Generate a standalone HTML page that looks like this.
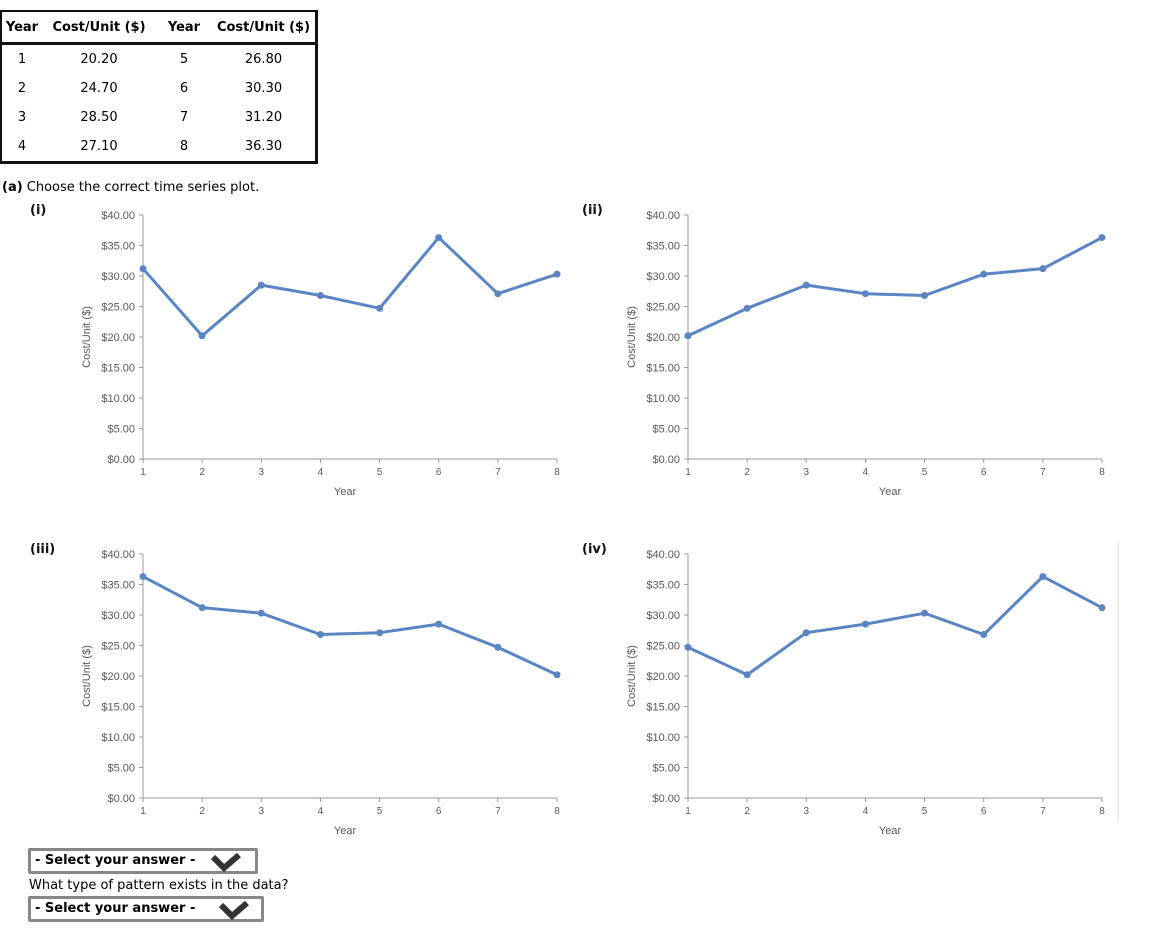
<!DOCTYPE html>
<html><head><meta charset="utf-8"><style>
body{margin:0;background:#fff;width:1172px;height:946px;overflow:hidden;font-family:Verdana,"DejaVu Sans",sans-serif;position:relative}
.tbl{position:absolute;left:0;top:10px;width:313px;height:149px;border:2px solid #111;border-right-width:3px;border-bottom-width:3px}
.tbl table{border-collapse:collapse;width:100%;font-size:13px;table-layout:fixed}
.tbl th{font-weight:bold;height:30px;border-bottom:3px solid #111;padding:0}
.tbl td{text-align:center;height:29px;padding:0}
.q{position:absolute;left:2px;top:180px;font-size:13px}
.sel{position:absolute;left:28px;width:220px;height:20px;border:3px solid #888;border-radius:2px;font-weight:bold;font-size:13px;line-height:20px;padding-left:4px;box-sizing:content-box}
.sel svg.v{position:absolute;left:178px;top:1px}
.txt{position:absolute;left:29px;top:878px;font-size:13px}
#s{position:absolute;left:0;top:0}
</style></head><body>
<div class="tbl"><table>
<colgroup><col style="width:40px"><col style="width:114px"><col style="width:56px"><col></colgroup>
<tr><th>Year</th><th>Cost/Unit ($)</th><th>Year</th><th>Cost/Unit ($)</th></tr>
<tr><td>1</td><td>20.20</td><td>5</td><td>26.80</td></tr>
<tr><td>2</td><td>24.70</td><td>6</td><td>30.30</td></tr>
<tr><td>3</td><td>28.50</td><td>7</td><td>31.20</td></tr>
<tr><td>4</td><td>27.10</td><td>8</td><td>36.30</td></tr>
</table></div>
<div class="q"><b>(a)</b> Choose the correct time series plot.</div>
<div class="sel" style="top:848px">- Select your answer -<svg class="v" width="34" height="20"><polyline points="4,5 15,16 30,3" fill="none" stroke="#333" stroke-width="6"/></svg></div>
<div class="txt">What type of pattern exists in the data?</div>
<div class="sel" style="top:896px;width:226px">- Select your answer -<svg class="v" style="left:186px" width="34" height="20"><polyline points="4,5 15,16 30,3" fill="none" stroke="#333" stroke-width="6"/></svg></div>
<svg id="s" width="1172" height="946" xmlns="http://www.w3.org/2000/svg"></svg>
<script>
const years=[1,2,3,4,5,6,7,8];
const yTicks=[0,5,10,15,20,25,30,35,40];
const seriesI=[31.2,20.2,28.5,26.8,24.7,36.3,27.1,30.3];
const seriesII=[20.2,24.7,28.5,27.1,26.8,30.3,31.2,36.3];
const seriesIII=[36.3,31.2,30.3,26.8,27.1,28.5,24.7,20.2];
const seriesIV=[24.7,20.2,27.1,28.5,30.3,26.8,36.3,31.2];
const panels=[
 {label:"(i)",lx:30,x0:143,top:215,data:seriesI,name:"plot-i"},
 {label:"(ii)",lx:582,x0:688,top:215,data:seriesII,name:"plot-ii"},
 {label:"(iii)",lx:30,x0:143,top:554,data:seriesIII,name:"plot-iii"},
 {label:"(iv)",lx:582,x0:688,top:554,data:seriesIV,name:"plot-iv"}];
const NS="http://www.w3.org/2000/svg",svg=document.getElementById('s');
function mk(t,a,p){const e=document.createElementNS(NS,t);for(const k in a)e.setAttribute(k,a[k]);(p||svg).appendChild(e);return e;}
panels.forEach(P=>{
 const g=mk('g',{});
 
 
 const H=244,W=414;
 const sx=v=>P.x0+(v-1)*W/7, sy=v=>P.top+H-v/40*H;
 const lb=mk('text',{x:P.lx,y:P.top-1,'font-size':13,'font-weight':'bold','font-family':'Verdana,DejaVu Sans,sans-serif',fill:'#111'},g);lb.textContent=P.label;
 
 
 mk('line',{x1:P.x0,y1:P.top,x2:P.x0,y2:P.top+H,stroke:'#999'},g);
 mk('line',{x1:P.x0,y1:P.top+H,x2:P.x0+W,y2:P.top+H,stroke:'#999'},g);
 yTicks.forEach(t=>{mk('line',{x1:P.x0-4,y1:sy(t),x2:P.x0,y2:sy(t),stroke:'#999'},g);
  const tx=mk('text',{x:P.x0-8,y:sy(t)+4,'text-anchor':'end','font-size':11,fill:'#595959','font-family':'Liberation Sans,sans-serif'},g);tx.textContent='$'+t.toFixed(2);
  
  });
 years.forEach(y=>{mk('line',{x1:sx(y),y1:P.top+H,x2:sx(y),y2:P.top+H+4,stroke:'#999'},g);
  const tx=mk('text',{x:sx(y),y:P.top+H+16,'text-anchor':'middle','font-size':10,fill:'#595959','font-family':'Liberation Sans,sans-serif'},g);tx.textContent=y;
  
  });
 const xt=mk('text',{x:P.x0+202,y:P.top+H+36,'text-anchor':'middle','font-size':11,fill:'#595959','font-family':'Liberation Sans,sans-serif'},g);xt.textContent='Year';
 
 
 const yt=mk('text',{x:0,y:0,transform:`translate(${P.x0-53},${P.top+122}) rotate(-90)`,'text-anchor':'middle','font-size':11,fill:'#595959','font-family':'Liberation Sans,sans-serif'},g);yt.textContent='Cost/Unit ($)';
 
 
 const pl=mk('polyline',{points:P.data.map((v,i)=>sx(years[i])+','+sy(v)).join(' '),fill:'none',stroke:'#5b85c2','stroke-width':3,'stroke-linejoin':'round'},g);
 
 
 P.data.forEach((v,i)=>{const c=mk('circle',{cx:sx(years[i]),cy:sy(v),r:3.5,fill:'#5b85c2'},g);
  
  });
});
mk('line',{x1:1118,y1:541,x2:1118,y2:822,stroke:'#ddd'});
</script>
</body></html>
